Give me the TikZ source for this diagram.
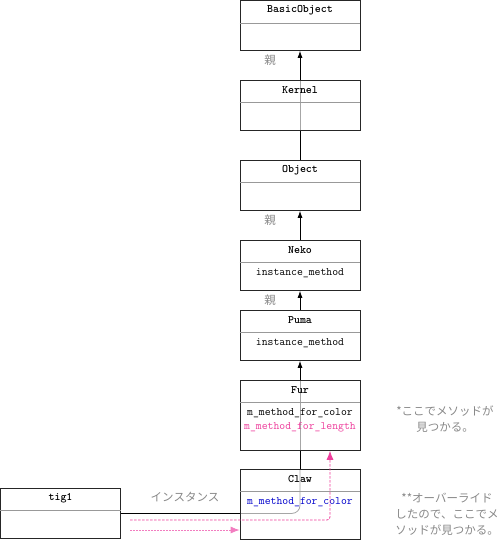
\documentclass[tikz,border=0pt]{standalone}
\usepackage{fontspec}
\newfontfamily\jp{Noto Sans CJK JP}
\usetikzlibrary{arrows.meta}
\pgfdeclarelayer{bg}
\pgfsetlayers{bg,main}
\definecolor{pk}{HTML}{EE3E9C}
\definecolor{pkl}{HTML}{F27DC0}
\definecolor{bl}{HTML}{0000CC}
\definecolor{lb}{HTML}{999999}
\definecolor{lt}{HTML}{888888}
\begin{document}
\begin{tikzpicture}[x=1pt,y=1pt,
 cls/.style={draw=black!85, line width=0.8pt, fill=white, fill opacity=0.65, text opacity=1, minimum width=120pt, inner sep=0pt, anchor=north},
 ttl/.style={font=\ttfamily\bfseries\fontsize{11.4}{13}\selectfont, inner sep=0pt},
 mth/.style={font=\ttfamily\fontsize{11.4}{13}\selectfont, inner sep=0pt},
 divl/.style={draw=lb, line width=0.6pt},
 jlab/.style={font=\jp\fontsize{11.5}{16}\selectfont, text=lt, inner sep=0pt, align=center},
 inh/.style={draw=black, line width=0.8pt, -{Latex[length=7pt,width=5pt]}},
 pkarrow/.style={-{Latex[length=9pt,width=7pt]}, line width=0.8pt},
]
\useasboundingbox (0,0) rectangle (501,-540);
% class boxes
\node[cls,minimum height=49.5pt] (bo) at (300,-0.5) {};
\node[cls,minimum height=50pt] (ke) at (300,-80) {};
\node[cls,minimum height=50pt] (ob) at (300,-160) {};
\node[cls,minimum height=50pt] (ne) at (300,-240) {};
\node[cls,minimum height=50pt] (pu) at (300,-310) {};
\node[cls,minimum height=70pt] (fu) at (300,-380) {};
\node[cls,minimum height=70pt] (cl) at (300,-469) {};
\node[cls,minimum height=50pt] (tg) at (60.5,-488) {};
% titles
\node[ttl] (bot) at ([yshift=-10pt]bo.north) {BasicObject};
\node[ttl] (ket) at ([yshift=-10pt]ke.north) {Kernel};
\node[ttl] (obt) at ([yshift=-10pt]ob.north) {Object};
\node[ttl] (net) at ([yshift=-10pt]ne.north) {Neko};
\node[ttl] (put) at ([yshift=-10pt]pu.north) {Puma};
\node[ttl] (fut) at ([yshift=-10pt]fu.north) {Fur};
\node[ttl] (clt) at ([yshift=-10pt]cl.north) {Claw};
\node[ttl] (tgt) at ([yshift=-10pt]tg.north) {tig1};
% dividers
\foreach \n in {bo,ke,ob,ne,pu,fu,cl,tg}
  \draw[divl] ([yshift=-22.5pt]\n.north west) -- ([yshift=-22.5pt]\n.north east);
% methods
\node[mth] (nem) at ([yshift=-33pt]ne.north) {instance\_method};
\node[mth] (pum) at ([yshift=-33pt]pu.north) {instance\_method};
\node[mth] (fum1) at ([yshift=-33pt]fu.north) {m\_method\_for\_color};
\node[mth,text=pk] (fum2) at ([yshift=-47pt]fu.north) {m\_method\_for\_length};
\node[mth,text=bl] (clm) at ([yshift=-33pt]cl.north) {m\_method\_for\_color};
% labels
\node[jlab] (l1) at (270,-60) {親};
\node[jlab] (l2) at (270,-220) {親};
\node[jlab] (l3) at (270,-300) {親};
\node[jlab] (inst) at (185,-497) {インスタンス};
\node[jlab] (n1) at (445,-419) {*ここでメソッドが\\見つかる。};
\node[jlab] (n2) at (447,-514) {**オーバーライド\\したので、ここでメ\\ソッドが見つかる。};
% connectors behind boxes
\begin{pgfonlayer}{bg}
\draw[inh] (ob.north) -- (bo.south);
\draw[inh] (ne.north) -- (ob.south);
\draw[inh] (pu.north) -- (ne.south);
\draw[inh] (cl.north) -- (pu.south);
\draw[line width=0.8pt, rounded corners=8pt] (tg.east) -| (cl.north);
\end{pgfonlayer}
% pink search paths
\coordinate (s1) at (130,-520);
\coordinate (s2) at (130,-530);
\draw[pk, pkarrow, dash pattern=on 2.5pt off 1.5pt, rounded corners=3pt] (s1) -| ([xshift=30pt]fu.south);
\draw[pkl, pkarrow, dash pattern=on 1.5pt off 1.5pt] (s2) -- (cl.west |- s2);
\end{tikzpicture}
\end{document}
